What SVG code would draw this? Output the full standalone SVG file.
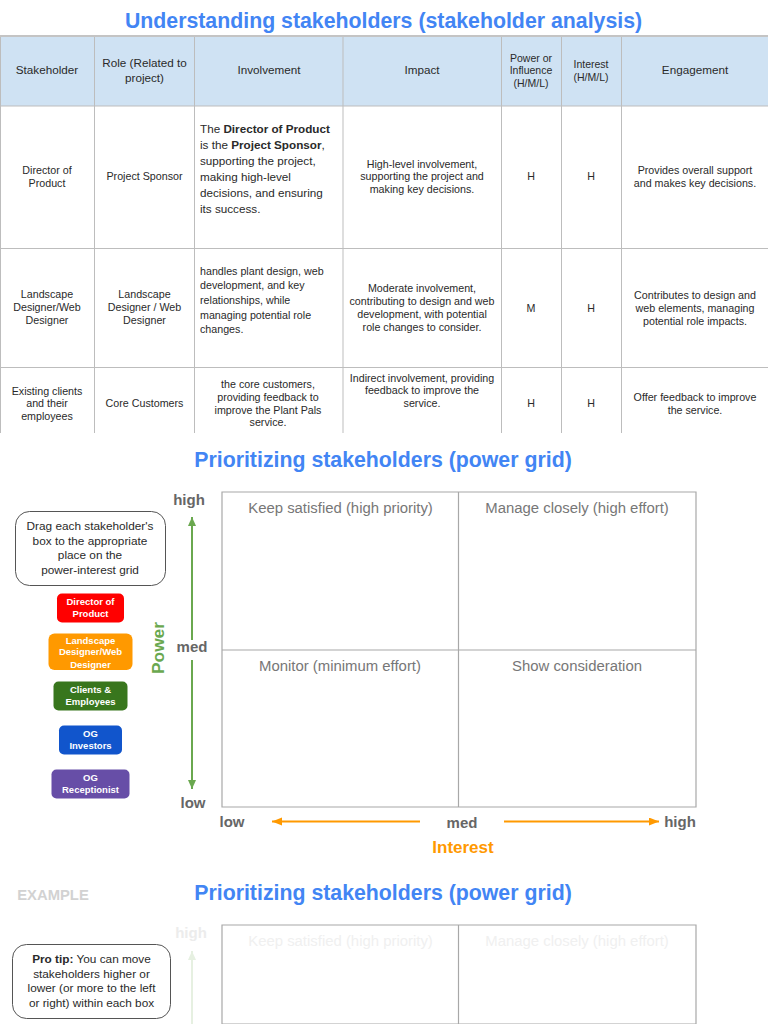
<svg xmlns="http://www.w3.org/2000/svg" width="768" height="1024" viewBox="0 0 768 1024">
<style>
text{font-family:"Liberation Sans",Arial,sans-serif;text-anchor:middle;fill:#2a2a2a}
.title{font-size:21.300px;font-weight:700;fill:#4285f4}
.th{font-size:11.700px}
.ths{font-size:10.500px}
.td{font-size:10.700px}
.inv{font-size:11.700px;text-anchor:start}
.inv2{font-size:10.700px;text-anchor:start}
.tl{stroke:#bdbdbd;stroke-width:1;fill:none}
.grid{stroke:#a8a8a8;stroke-width:1.200;fill:#fff}
.q{font-size:14.900px;fill:#777}
.axis{font-size:15px;font-weight:700;fill:#666}
.note{fill:#fff;stroke:#555;stroke-width:1}
.n{font-size:11.800px}
.tag{font-size:9.500px;font-weight:700;fill:#fff}
.b{font-weight:700}
</style>
<defs>
<marker id="ag" markerUnits="userSpaceOnUse" markerWidth="10" markerHeight="12" refX="9" refY="5" orient="auto"><path d="M0 1L9 5L0 9Z" fill="#6aa84f"/></marker>
<marker id="ao" markerUnits="userSpaceOnUse" markerWidth="12" markerHeight="10" refX="10" refY="4" orient="auto"><path d="M0 0L10 4L0 8Z" fill="#ff9900"/></marker>
<marker id="agl" markerUnits="userSpaceOnUse" markerWidth="10" markerHeight="12" refX="9" refY="5" orient="auto"><path d="M0 1L9 5L0 9Z" fill="#e6f0e1"/></marker>
</defs>
<rect width="768" height="1024" fill="#fff"/>
<text class="title" x="383.500" y="27.500">Understanding stakeholders (stakeholder analysis)</text>
<g id="table">
<rect x="0" y="36" width="768" height="70" fill="#cfe2f3"/>
<path class="tl" d="M0 36.500H768M0 106H768M0 248.500H768M0 367.500H768M0.500 36V433M94.500 36V433M194.500 36V433M343 36V433M501.500 36V433M561.500 36V433M621.500 36V433"/>
<path d="M0 36H768" stroke="#c4c4c4" stroke-width="2"/>
<text class="th" x="47" y="74">Stakeholder</text>
<text class="th" x="144.500" y="67">Role (Related to</text><text class="th" x="144.500" y="82">project)</text>
<text class="th" x="269" y="74">Involvement</text>
<text class="th" x="422" y="74">Impact</text>
<text class="ths" x="531" y="62">Power or</text><text class="ths" x="531" y="74">Influence</text><text class="ths" x="531" y="87">(H/M/L)</text>
<text class="ths" x="591" y="68">Interest</text><text class="ths" x="591" y="81">(H/M/L)</text>
<text class="th" x="695" y="74">Engagement</text>

<text class="td" x="47" y="174">Director of</text><text class="td" x="47" y="187">Product</text>
<text class="td" x="144.500" y="180">Project Sponsor</text>
<text class="inv" x="200" y="133">The <tspan class="b">Director of Product</tspan></text>
<text class="inv" x="200" y="149">is the <tspan class="b">Project Sponsor</tspan>,</text>
<text class="inv" x="200" y="165">supporting the project,</text>
<text class="inv" x="200" y="181">making high-level</text>
<text class="inv" x="200" y="197">decisions, and ensuring</text>
<text class="inv" x="200" y="213">its success.</text>
<text class="td" x="422" y="168">High-level involvement,</text><text class="td" x="422" y="180">supporting the project and</text><text class="td" x="422" y="193">making key decisions.</text>
<text class="td" x="531" y="180">H</text><text class="td" x="591" y="180">H</text>
<text class="td" x="695" y="174">Provides overall support</text><text class="td" x="695" y="187">and makes key decisions.</text>

<text class="td" x="47" y="298">Landscape</text><text class="td" x="47" y="311">Designer/Web</text><text class="td" x="47" y="324">Designer</text>
<text class="td" x="144.500" y="298">Landscape</text><text class="td" x="144.500" y="311">Designer / Web</text><text class="td" x="144.500" y="324">Designer</text>
<text class="inv2" x="200" y="275">handles plant design, web</text>
<text class="inv2" x="200" y="289">development, and key</text>
<text class="inv2" x="200" y="304">relationships, while</text>
<text class="inv2" x="200" y="319">managing potential role</text>
<text class="inv2" x="200" y="333">changes.</text>
<text class="td" x="422" y="292">Moderate involvement,</text><text class="td" x="422" y="305">contributing to design and web</text><text class="td" x="422" y="318">development, with potential</text><text class="td" x="422" y="331">role changes to consider.</text>
<text class="td" x="531" y="312">M</text><text class="td" x="591" y="312">H</text>
<text class="td" x="695" y="299">Contributes to design and</text><text class="td" x="695" y="312">web elements, managing</text><text class="td" x="695" y="325">potential role impacts.</text>

<text class="td" x="47" y="395">Existing clients</text><text class="td" x="47" y="407">and their</text><text class="td" x="47" y="420">employees</text>
<text class="td" x="144.500" y="407">Core Customers</text>
<text class="td" x="268" y="388">the core customers,</text><text class="td" x="268" y="401">providing feedback to</text><text class="td" x="268" y="414">improve the Plant Pals</text><text class="td" x="268" y="426">service.</text>
<text class="td" x="422" y="382">Indirect involvement, providing</text><text class="td" x="422" y="394">feedback to improve the</text><text class="td" x="422" y="407">service.</text>
<text class="td" x="531" y="407">H</text><text class="td" x="591" y="407">H</text>
<text class="td" x="695" y="401">Offer feedback to improve</text><text class="td" x="695" y="414">the service.</text>
</g>

<text class="title" x="383" y="466.500">Prioritizing stakeholders (power grid)</text>
<g id="grid-1">
<path class="grid" d="M222 492H696V807H222Z"/>
<path class="grid" fill="none" d="M458.500 492V807M222 650H696"/>
<text class="q" x="340.500" y="513">Keep satisfied (high priority)</text>
<text class="q" x="577" y="513">Manage closely (high effort)</text>
<text class="q" x="340" y="671">Monitor (minimum effort)</text>
<text class="q" x="577" y="671">Show consideration</text>
</g>
<g id="axis-labels">
<text class="axis" x="189" y="505">high</text>
<text class="axis" x="192" y="652">med</text>
<text class="axis" x="193" y="808">low</text>
<text class="axis" x="232" y="827">low</text>
<text class="axis" x="462" y="828">med</text>
<text class="axis" x="680" y="827">high</text>
<text x="0" y="0" transform="translate(164 648) rotate(-90)" style="font-size:17.300px;font-weight:700;fill:#6aa84f">Power</text>
<text x="463" y="852.500" style="font-size:17px;font-weight:700;fill:#ff9900">Interest</text>
</g>
<g id="connectors" fill="none" stroke-width="2">
<path stroke="#6aa84f" marker-end="url(#ag)" d="M192 640V517"/>
<path stroke="#6aa84f" marker-end="url(#ag)" d="M192 660V789"/>
<path stroke="#ff9900" marker-end="url(#ao)" d="M420 821.500H272"/>
<path stroke="#ff9900" marker-end="url(#ao)" d="M504 821.500H659"/>
<path stroke="#e6f0e1" marker-end="url(#agl)" d="M192 1024V951"/>
</g>
<g id="note-1"><rect class="note" x="15.500" y="511.500" width="150" height="74" rx="14"/>
<text class="n" x="90" y="530">Drag each stakeholder's</text><text class="n" x="90" y="545">box to the appropriate</text><text class="n" x="90" y="559">place on the</text><text class="n" x="90" y="574">power-interest grid</text></g>
<g id="tag-director"><rect x="57" y="593.500" width="67" height="29" rx="5" fill="#ff0000"/><text class="tag" x="90.500" y="605">Director of</text><text class="tag" x="90.500" y="617">Product</text></g>
<g id="tag-landscape"><rect x="48.500" y="633.500" width="84" height="36.500" rx="6" fill="#ff9900"/><text class="tag" x="90.500" y="643.500">Landscape</text><text class="tag" x="90.500" y="655">Designer/Web</text><text class="tag" x="90.500" y="667.500">Designer</text></g>
<g id="tag-clients"><rect x="53.500" y="681.500" width="74" height="29" rx="5" fill="#38761d"/><text class="tag" x="90.500" y="693">Clients &amp;</text><text class="tag" x="90.500" y="704.500">Employees</text></g>
<g id="tag-investors"><rect x="59" y="725.500" width="63" height="29" rx="5" fill="#1155cc"/><text class="tag" x="90.500" y="737">OG</text><text class="tag" x="90.500" y="749">Investors</text></g>
<g id="tag-receptionist"><rect x="51.500" y="769.500" width="78" height="29" rx="5" fill="#674ea7"/><text class="tag" x="90.500" y="781">OG</text><text class="tag" x="90.500" y="792.500">Receptionist</text></g>

<text x="53" y="900" style="font-size:14.800px;font-weight:700;fill:#d2d2d2">EXAMPLE</text>
<text class="title" x="383" y="899.500">Prioritizing stakeholders (power grid)</text>
<g id="grid-2">
<path class="grid" d="M222 925H696V1024H222Z"/>
<path class="grid" fill="none" d="M458.500 925V1024"/>
<text class="q" x="340.500" y="946" style="fill:#f0f0f0">Keep satisfied (high priority)</text>
<text class="q" x="577" y="946" style="fill:#f0f0f0">Manage closely (high effort)</text>
<text class="axis" x="191" y="938" style="fill:#ececec">high</text>
</g>
<g id="note-2"><rect class="note" x="12.500" y="944.500" width="158" height="74" rx="14"/>
<text class="n" x="91.500" y="963"><tspan class="b">Pro tip:</tspan> You can move</text><text class="n" x="91.500" y="978">stakeholders higher or</text><text class="n" x="91.500" y="992">lower (or more to the left</text><text class="n" x="91.500" y="1007">or right) within each box</text></g>
</svg>
